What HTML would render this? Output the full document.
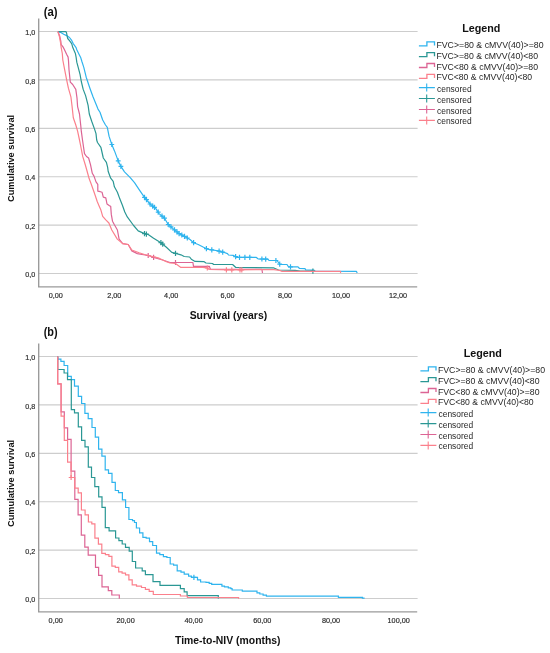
<!DOCTYPE html><html><head><meta charset="utf-8"><style>html,body{margin:0;padding:0;background:#fff;}svg{display:block;font-family:"Liberation Sans",sans-serif;will-change:transform;filter:blur(0.3px);}</style></head><body>
<svg width="550" height="653" viewBox="0 0 550 653">
<rect width="550" height="653" fill="#fff"/>
<text x="43.7" y="15.8" font-size="12.2" font-weight="bold" fill="#111" textLength="13.9" lengthAdjust="spacingAndGlyphs">(a)</text>
<path d="M39,31.5H417.6" stroke="#CDCDCD" stroke-width="1.15"/>
<path d="M39,79.9H417.6" stroke="#CDCDCD" stroke-width="1.15"/>
<path d="M39,128.3H417.6" stroke="#CDCDCD" stroke-width="1.15"/>
<path d="M39,176.7H417.6" stroke="#CDCDCD" stroke-width="1.15"/>
<path d="M39,225.1H417.6" stroke="#CDCDCD" stroke-width="1.15"/>
<path d="M39,273.5H417.6" stroke="#CDCDCD" stroke-width="1.15"/>
<path d="M38.7,18.6V287.4M38.1,286.8H417.2" stroke="#9A9A9A" stroke-width="1.35" fill="none"/>
<text x="35.2" y="35.1" font-size="8.0" fill="#2A2A2A" stroke="#2A2A2A" stroke-width="0.18" text-anchor="end" textLength="10.01" lengthAdjust="spacingAndGlyphs">1,0</text>
<text x="35.2" y="83.5" font-size="8.0" fill="#2A2A2A" stroke="#2A2A2A" stroke-width="0.18" text-anchor="end" textLength="10.01" lengthAdjust="spacingAndGlyphs">0,8</text>
<text x="35.2" y="131.9" font-size="8.0" fill="#2A2A2A" stroke="#2A2A2A" stroke-width="0.18" text-anchor="end" textLength="10.01" lengthAdjust="spacingAndGlyphs">0,6</text>
<text x="35.2" y="180.3" font-size="8.0" fill="#2A2A2A" stroke="#2A2A2A" stroke-width="0.18" text-anchor="end" textLength="10.01" lengthAdjust="spacingAndGlyphs">0,4</text>
<text x="35.2" y="228.7" font-size="8.0" fill="#2A2A2A" stroke="#2A2A2A" stroke-width="0.18" text-anchor="end" textLength="10.01" lengthAdjust="spacingAndGlyphs">0,2</text>
<text x="35.2" y="277.1" font-size="8.0" fill="#2A2A2A" stroke="#2A2A2A" stroke-width="0.18" text-anchor="end" textLength="10.01" lengthAdjust="spacingAndGlyphs">0,0</text>
<text x="55.8" y="297.9" font-size="8.0" fill="#2A2A2A" stroke="#2A2A2A" stroke-width="0.18" text-anchor="middle" textLength="14.17" lengthAdjust="spacingAndGlyphs">0,00</text>
<text x="114.3" y="297.9" font-size="8.0" fill="#2A2A2A" stroke="#2A2A2A" stroke-width="0.18" text-anchor="middle" textLength="14.17" lengthAdjust="spacingAndGlyphs">2,00</text>
<text x="171.2" y="297.9" font-size="8.0" fill="#2A2A2A" stroke="#2A2A2A" stroke-width="0.18" text-anchor="middle" textLength="14.17" lengthAdjust="spacingAndGlyphs">4,00</text>
<text x="227.6" y="297.9" font-size="8.0" fill="#2A2A2A" stroke="#2A2A2A" stroke-width="0.18" text-anchor="middle" textLength="14.17" lengthAdjust="spacingAndGlyphs">6,00</text>
<text x="285.0" y="297.9" font-size="8.0" fill="#2A2A2A" stroke="#2A2A2A" stroke-width="0.18" text-anchor="middle" textLength="14.17" lengthAdjust="spacingAndGlyphs">8,00</text>
<text x="341.0" y="297.9" font-size="8.0" fill="#2A2A2A" stroke="#2A2A2A" stroke-width="0.18" text-anchor="middle" textLength="18.21" lengthAdjust="spacingAndGlyphs">10,00</text>
<text x="398.0" y="297.9" font-size="8.0" fill="#2A2A2A" stroke="#2A2A2A" stroke-width="0.18" text-anchor="middle" textLength="18.21" lengthAdjust="spacingAndGlyphs">12,00</text>
<text transform="translate(14.1,158.4) rotate(-90)" x="0" y="0" font-size="9.8" font-weight="bold" fill="#111" text-anchor="middle" textLength="87" lengthAdjust="spacingAndGlyphs">Cumulative survival</text>
<text x="228.4" y="318.5" font-size="10.4" font-weight="bold" fill="#111" text-anchor="middle" textLength="77.5" lengthAdjust="spacingAndGlyphs">Survival (years)</text>
<text x="462.2" y="32.4" font-size="10.6" font-weight="bold" fill="#111" textLength="38.2" lengthAdjust="spacingAndGlyphs">Legend</text>
<path d="M418.9,45.8H426.9V41.8H434.5V45.4" stroke="#2FB4EE" fill="none" stroke-width="1.3"/>
<text x="436.4" y="47.8" font-size="9.1" fill="#262626" textLength="107.2" lengthAdjust="spacingAndGlyphs">FVC&gt;=80 &amp; cMVV(40)&gt;=80</text>
<path d="M418.9,56.7H426.9V52.7H434.5V56.3" stroke="#2A9794" fill="none" stroke-width="1.3"/>
<text x="436.4" y="58.7" font-size="9.1" fill="#262626" textLength="101.6" lengthAdjust="spacingAndGlyphs">FVC&gt;=80 &amp; cMVV(40)&lt;80</text>
<path d="M418.9,67.5H426.9V63.5H434.5V67.1" stroke="#DC6494" fill="none" stroke-width="1.3"/>
<text x="436.4" y="69.5" font-size="9.1" fill="#262626" textLength="101.6" lengthAdjust="spacingAndGlyphs">FVC&lt;80 &amp; cMVV(40)&gt;=80</text>
<path d="M418.9,78.3H426.9V74.3H434.5V78.0" stroke="#FB808C" fill="none" stroke-width="1.3"/>
<text x="436.4" y="80.3" font-size="9.1" fill="#262626" textLength="95.8" lengthAdjust="spacingAndGlyphs">FVC&lt;80 &amp; cMVV(40)&lt;80</text>
<path d="M418.9,87.6H434.9M426.7,83.6V91.6" stroke="#2FB4EE" fill="none" stroke-width="1.1"/>
<text x="437.0" y="91.6" font-size="8.8" fill="#262626" textLength="34.6" lengthAdjust="spacingAndGlyphs">censored</text>
<path d="M418.9,98.5H434.9M426.7,94.5V102.5" stroke="#2A9794" fill="none" stroke-width="1.1"/>
<text x="437.0" y="102.5" font-size="8.8" fill="#262626" textLength="34.6" lengthAdjust="spacingAndGlyphs">censored</text>
<path d="M418.9,109.5H434.9M426.7,105.5V113.5" stroke="#DC6494" fill="none" stroke-width="1.1"/>
<text x="437.0" y="113.5" font-size="8.8" fill="#262626" textLength="34.6" lengthAdjust="spacingAndGlyphs">censored</text>
<path d="M418.9,120.4H434.9M426.7,116.4V124.4" stroke="#FB808C" fill="none" stroke-width="1.1"/>
<text x="437.0" y="124.4" font-size="8.8" fill="#262626" textLength="34.6" lengthAdjust="spacingAndGlyphs">censored</text>
<text x="43.7" y="336.4" font-size="12.2" font-weight="bold" fill="#111" textLength="13.9" lengthAdjust="spacingAndGlyphs">(b)</text>
<path d="M39,356.5H417.6" stroke="#CDCDCD" stroke-width="1.15"/>
<path d="M39,404.9H417.6" stroke="#CDCDCD" stroke-width="1.15"/>
<path d="M39,453.3H417.6" stroke="#CDCDCD" stroke-width="1.15"/>
<path d="M39,501.7H417.6" stroke="#CDCDCD" stroke-width="1.15"/>
<path d="M39,550.1H417.6" stroke="#CDCDCD" stroke-width="1.15"/>
<path d="M39,598.5H417.6" stroke="#CDCDCD" stroke-width="1.15"/>
<path d="M38.7,343.6V612.4M38.1,611.8H417.2" stroke="#9A9A9A" stroke-width="1.35" fill="none"/>
<text x="35.2" y="360.1" font-size="8.0" fill="#2A2A2A" stroke="#2A2A2A" stroke-width="0.18" text-anchor="end" textLength="10.01" lengthAdjust="spacingAndGlyphs">1,0</text>
<text x="35.2" y="408.5" font-size="8.0" fill="#2A2A2A" stroke="#2A2A2A" stroke-width="0.18" text-anchor="end" textLength="10.01" lengthAdjust="spacingAndGlyphs">0,8</text>
<text x="35.2" y="456.9" font-size="8.0" fill="#2A2A2A" stroke="#2A2A2A" stroke-width="0.18" text-anchor="end" textLength="10.01" lengthAdjust="spacingAndGlyphs">0,6</text>
<text x="35.2" y="505.3" font-size="8.0" fill="#2A2A2A" stroke="#2A2A2A" stroke-width="0.18" text-anchor="end" textLength="10.01" lengthAdjust="spacingAndGlyphs">0,4</text>
<text x="35.2" y="553.7" font-size="8.0" fill="#2A2A2A" stroke="#2A2A2A" stroke-width="0.18" text-anchor="end" textLength="10.01" lengthAdjust="spacingAndGlyphs">0,2</text>
<text x="35.2" y="602.1" font-size="8.0" fill="#2A2A2A" stroke="#2A2A2A" stroke-width="0.18" text-anchor="end" textLength="10.01" lengthAdjust="spacingAndGlyphs">0,0</text>
<text x="55.7" y="622.9" font-size="8.0" fill="#2A2A2A" stroke="#2A2A2A" stroke-width="0.18" text-anchor="middle" textLength="14.17" lengthAdjust="spacingAndGlyphs">0,00</text>
<text x="125.6" y="622.9" font-size="8.0" fill="#2A2A2A" stroke="#2A2A2A" stroke-width="0.18" text-anchor="middle" textLength="18.21" lengthAdjust="spacingAndGlyphs">20,00</text>
<text x="193.6" y="622.9" font-size="8.0" fill="#2A2A2A" stroke="#2A2A2A" stroke-width="0.18" text-anchor="middle" textLength="18.21" lengthAdjust="spacingAndGlyphs">40,00</text>
<text x="262.3" y="622.9" font-size="8.0" fill="#2A2A2A" stroke="#2A2A2A" stroke-width="0.18" text-anchor="middle" textLength="18.21" lengthAdjust="spacingAndGlyphs">60,00</text>
<text x="331.0" y="622.9" font-size="8.0" fill="#2A2A2A" stroke="#2A2A2A" stroke-width="0.18" text-anchor="middle" textLength="18.21" lengthAdjust="spacingAndGlyphs">80,00</text>
<text x="398.7" y="622.9" font-size="8.0" fill="#2A2A2A" stroke="#2A2A2A" stroke-width="0.18" text-anchor="middle" textLength="22.26" lengthAdjust="spacingAndGlyphs">100,00</text>
<text transform="translate(14.1,483.4) rotate(-90)" x="0" y="0" font-size="9.8" font-weight="bold" fill="#111" text-anchor="middle" textLength="87" lengthAdjust="spacingAndGlyphs">Cumulative survival</text>
<text x="227.8" y="644.4" font-size="10.4" font-weight="bold" fill="#111" text-anchor="middle" textLength="105.5" lengthAdjust="spacingAndGlyphs">Time-to-NIV (months)</text>
<text x="463.7" y="357.4" font-size="10.6" font-weight="bold" fill="#111" textLength="38.2" lengthAdjust="spacingAndGlyphs">Legend</text>
<path d="M420.4,370.8H428.4V366.8H436.0V370.4" stroke="#2FB4EE" fill="none" stroke-width="1.3"/>
<text x="437.9" y="372.8" font-size="9.1" fill="#262626" textLength="107.2" lengthAdjust="spacingAndGlyphs">FVC&gt;=80 &amp; cMVV(40)&gt;=80</text>
<path d="M420.4,381.7H428.4V377.7H436.0V381.2" stroke="#2A9794" fill="none" stroke-width="1.3"/>
<text x="437.9" y="383.7" font-size="9.1" fill="#262626" textLength="101.6" lengthAdjust="spacingAndGlyphs">FVC&gt;=80 &amp; cMVV(40)&lt;80</text>
<path d="M420.4,392.5H428.4V388.5H436.0V392.1" stroke="#DC6494" fill="none" stroke-width="1.3"/>
<text x="437.9" y="394.5" font-size="9.1" fill="#262626" textLength="101.6" lengthAdjust="spacingAndGlyphs">FVC&lt;80 &amp; cMVV(40)&gt;=80</text>
<path d="M420.4,403.4H428.4V399.4H436.0V402.9" stroke="#FB808C" fill="none" stroke-width="1.3"/>
<text x="437.9" y="405.4" font-size="9.1" fill="#262626" textLength="95.8" lengthAdjust="spacingAndGlyphs">FVC&lt;80 &amp; cMVV(40)&lt;80</text>
<path d="M420.4,412.6H436.4M428.2,408.6V416.6" stroke="#2FB4EE" fill="none" stroke-width="1.1"/>
<text x="438.5" y="416.6" font-size="8.8" fill="#262626" textLength="34.6" lengthAdjust="spacingAndGlyphs">censored</text>
<path d="M420.4,423.6H436.4M428.2,419.6V427.6" stroke="#2A9794" fill="none" stroke-width="1.1"/>
<text x="438.5" y="427.6" font-size="8.8" fill="#262626" textLength="34.6" lengthAdjust="spacingAndGlyphs">censored</text>
<path d="M420.4,434.5H436.4M428.2,430.5V438.5" stroke="#DC6494" fill="none" stroke-width="1.1"/>
<text x="438.5" y="438.5" font-size="8.8" fill="#262626" textLength="34.6" lengthAdjust="spacingAndGlyphs">censored</text>
<path d="M420.4,445.4H436.4M428.2,441.4V449.4" stroke="#FB808C" fill="none" stroke-width="1.1"/>
<text x="438.5" y="449.4" font-size="8.8" fill="#262626" textLength="34.6" lengthAdjust="spacingAndGlyphs">censored</text>
<g fill="none" stroke-width="1.2" stroke-linejoin="round">
<polyline points="57.9,31.6 60.8,32.4 63.7,34.2 66.6,35.6 69.5,37.5 71.7,40.4 73.2,43.6 76.1,47.6 76.8,49.8 79.0,54.2 80.8,57.8 81.9,61.5 83.8,67.4 86.2,77.2 89.9,88.2 93.0,96.8 98.0,109.1 100.0,112.3 102.7,120.0 105.5,125.0 107.3,127.3 109.1,136.4 111.8,144.5 114.5,150.9 118.2,160.9 120.9,166.4 124.5,171.8 130.0,177.3 134.5,182.7 140.0,190.9 144.5,197.3 150.0,204.0 155.5,208.2 159.1,213.6 164.5,218.2 168.2,224.5 173.6,229.1 179.1,233.6 184.5,236.4 190.0,239.5 193.6,242.7 198.2,244.5 203.6,247.3 207.3,249.1 212.7,250.0 218.2,250.9 223.6,252.3 227.5,253.6 228.5,255.0 233.5,255.4 236.5,257.3 256.0,257.3 258.0,258.8 268.0,259.2 269.0,260.5 277.0,260.5 278.5,262.5 280.0,264.5 287.0,264.5 288.5,266.8 298.0,266.8 299.5,268.5 305.0,268.6 305.8,270.0 314.0,270.2 315.0,271.2 356.5,271.4 357.2,272.9" stroke="#2FB4EE"/>
<path d="M111.8,141.9V147.1M109.4,144.5H114.2" stroke="#2FB4EE"/><path d="M118.2,158.3V163.5M115.8,160.9H120.6" stroke="#2FB4EE"/><path d="M120.9,163.8V169.0M118.5,166.4H123.3" stroke="#2FB4EE"/><path d="M144.5,194.7V199.9M142.1,197.3H146.9" stroke="#2FB4EE"/><path d="M146.5,197.1V202.3M144.1,199.7H148.9" stroke="#2FB4EE"/><path d="M150.0,201.4V206.6M147.6,204.0H152.4" stroke="#2FB4EE"/><path d="M152.7,203.5V208.7M150.3,206.1H155.1" stroke="#2FB4EE"/><path d="M154.5,204.8V210.0M152.1,207.4H156.9" stroke="#2FB4EE"/><path d="M158.2,209.6V214.8M155.8,212.2H160.6" stroke="#2FB4EE"/><path d="M162.0,213.5V218.7M159.6,216.1H164.4" stroke="#2FB4EE"/><path d="M164.5,215.6V220.8M162.1,218.2H166.9" stroke="#2FB4EE"/><path d="M168.2,221.9V227.1M165.8,224.5H170.6" stroke="#2FB4EE"/><path d="M171.0,224.3V229.5M168.6,226.9H173.4" stroke="#2FB4EE"/><path d="M174.5,227.2V232.4M172.1,229.8H176.9" stroke="#2FB4EE"/><path d="M177.0,229.3V234.5M174.6,231.9H179.4" stroke="#2FB4EE"/><path d="M179.1,231.0V236.2M176.7,233.6H181.5" stroke="#2FB4EE"/><path d="M181.8,232.4V237.6M179.4,235.0H184.2" stroke="#2FB4EE"/><path d="M184.5,233.8V239.0M182.1,236.4H186.9" stroke="#2FB4EE"/><path d="M187.3,235.4V240.6M184.9,238.0H189.7" stroke="#2FB4EE"/><path d="M193.6,240.1V245.3M191.2,242.7H196.0" stroke="#2FB4EE"/><path d="M206.4,246.1V251.3M204.0,248.7H208.8" stroke="#2FB4EE"/><path d="M211.8,247.2V252.4M209.4,249.8H214.2" stroke="#2FB4EE"/><path d="M219.1,248.5V253.7M216.7,251.1H221.5" stroke="#2FB4EE"/><path d="M222.7,249.5V254.7M220.3,252.1H225.1" stroke="#2FB4EE"/><path d="M235.6,254.1V259.3M233.2,256.7H238.0" stroke="#2FB4EE"/><path d="M239.5,254.7V259.9M237.1,257.3H241.9" stroke="#2FB4EE"/><path d="M244.9,254.7V259.9M242.5,257.3H247.3" stroke="#2FB4EE"/><path d="M249.8,254.7V259.9M247.4,257.3H252.2" stroke="#2FB4EE"/><path d="M261.9,256.4V261.6M259.5,259.0H264.3" stroke="#2FB4EE"/><path d="M265.7,256.5V261.7M263.3,259.1H268.1" stroke="#2FB4EE"/><path d="M275.9,257.9V263.1M273.5,260.5H278.3" stroke="#2FB4EE"/><path d="M279.7,261.5V266.7M277.3,264.1H282.1" stroke="#2FB4EE"/><path d="M290.5,264.2V269.4M288.1,266.8H292.9" stroke="#2FB4EE"/>
<polyline points="57.9,31.6 65.9,31.5 66.6,33.1 67.0,35.3 67.7,38.5 69.5,40.7 71.7,43.6 72.8,47.6 74.3,50.9 75.4,53.5 76.1,57.1 76.8,62.2 78.2,67.4 80.1,74.7 81.3,81.5 83.2,89.4 85.6,95.6 88.1,105.4 89.3,114.0 91.7,121.3 94.8,129.9 96.0,133.6 96.7,140.0 97.5,142.5 100.9,147.3 101.5,150.0 103.3,158.0 106.4,162.3 107.6,167.2 108.2,171.5 110.7,178.2 113.2,181.3 114.4,186.8 117.4,192.3 119.9,199.1 122.4,205.2 124.8,212.0 127.3,216.9 133.6,225.5 138.2,230.9 144.5,233.6 148.2,234.5 153.6,238.2 160.9,242.7 166.4,247.3 171.8,252.4 176.5,253.7 180.9,254.8 184.2,256.5 189.6,257.0 191.3,259.2 195.1,261.4 203.8,261.6 206.0,263.0 212.5,263.5 213.6,264.5 232.6,264.5 235.8,267.5 273.4,267.8 278.5,270.0 295.0,270.4 300.2,271.1 312.9,271.1" stroke="#2A9794"/>
<path d="M144.5,231.0V236.2M142.1,233.6H146.9" stroke="#2A9794"/><path d="M146.4,231.5V236.7M144.0,234.1H148.8" stroke="#2A9794"/><path d="M160.9,240.1V245.3M158.5,242.7H163.3" stroke="#2A9794"/><path d="M162.7,241.6V246.8M160.3,244.2H165.1" stroke="#2A9794"/><path d="M175.5,250.8V256.0M173.1,253.4H177.9" stroke="#2A9794"/><path d="M312.9,268.5V273.7M310.5,271.1H315.3" stroke="#2A9794"/>
<polyline points="57.9,31.6 59.7,36.0 60.8,41.1 61.2,44.7 63.0,46.9 64.5,49.8 66.6,54.2 68.1,57.1 68.5,60.7 69.0,69.8 70.3,82.1 72.7,84.5 75.8,89.4 77.0,98.0 77.6,106.6 79.5,114.0 80.7,125.0 81.3,131.2 82.5,140.0 84.5,153.6 86.5,156.5 88.6,158.0 90.5,164.7 92.3,173.3 94.1,176.4 96.0,181.9 97.8,184.4 97.8,191.1 100.3,191.7 102.1,192.3 103.3,197.2 105.8,197.9 107.0,204.0 109.5,205.8 110.7,206.4 111.3,214.4 112.5,221.2 114.4,224.8 117.4,230.0 119.1,239.1 122.7,243.6 128.2,244.5 131.8,250.9 137.3,253.6 148.2,255.5 153.6,257.3 162.7,260.0 170.0,262.5 174.4,262.5 192.9,262.5 193.5,266.3 209.3,266.3 210.4,269.2 261.9,269.3 262.5,273.0" stroke="#DC6494"/>
<path d="M148.2,252.9V258.1M145.8,255.5H150.6" stroke="#DC6494"/><path d="M153.6,254.7V259.9M151.2,257.3H156.0" stroke="#DC6494"/><path d="M175.5,259.9V265.1M173.1,262.5H177.9" stroke="#DC6494"/>
<polyline points="57.9,31.6 59.4,36.7 60.5,42.5 61.2,47.6 62.3,53.5 62.8,60.0 64.7,69.8 66.6,79.6 68.4,88.2 70.9,96.8 72.1,106.6 73.3,117.7 75.8,125.0 77.6,131.2 79.5,140.0 80.6,145.5 82.7,156.4 85.5,165.5 88.0,174.5 89.2,178.8 91.1,183.7 93.5,190.5 95.4,196.0 97.2,201.5 99.0,205.8 100.9,210.1 102.7,216.3 105.8,219.9 108.9,223.0 111.8,230.0 117.3,239.1 122.7,243.6 128.2,244.5 131.8,250.0 139.1,252.7 144.5,254.5 151.8,256.4 159.1,258.2 166.4,261.8 170.0,263.0 175.5,263.5 180.9,267.4 202.7,267.4 207.1,267.9 209.3,269.5 230.0,269.9 263.2,269.6 274.0,269.6 279.7,270.4 281.6,271.3 340.5,271.3 340.6,272.9" stroke="#FB808C"/>
<path d="M207.3,265.4V270.6M204.9,268.0H209.7" stroke="#FB808C"/><path d="M226.4,267.2V272.4M224.0,269.8H228.8" stroke="#FB808C"/><path d="M231.8,267.3V272.5M229.4,269.9H234.2" stroke="#FB808C"/><path d="M240.0,267.2V272.4M237.6,269.8H242.4" stroke="#FB808C"/><path d="M241.8,267.2V272.4M239.4,269.8H244.2" stroke="#FB808C"/>
</g>
<g fill="none" stroke-width="1.2">
<path d="M57.7,356.5H57.7V359.1H60.9V361.4H64.1V365.5H67.7V376.4H71.3V379.6H74.5V386.1H78.3V396.4H81.6V403.5H84.9V413.3H88.2V418.7H92.0V427.5H95.3V437.1H98.6V449.1H101.9V456.2H105.2V469.8H108.5V473.3H112.0V482.4H115.3V490.5H118.5V492.7H122.4V499.8H125.6V507.5H128.9V519.5H132.5V520.6H134.5V522.5H136.4V528.0H139.6V532.9H142.9V537.3H146.2V538.2H149.5V541.6H152.7V545.5H156.5V553.1H159.8V554.7H163.4V556.6H166.9V557.5H170.2V564.0H173.6V565.2H177.2V570.9H181.0V572.2H184.2V574.1H188.6V576.2H191.4V577.3H197.5V579.8H200.6V582.0H206.0V582.4H209.2V583.3H211.7V584.4H221.9V586.2H224.5V586.8H228.3V587.8H230.8V588.7H232.1V590.0H242.3V591.2H257.0V592.9H259.8V594.0H263.1V595.1H266.4V596.2H338.4V597.3H362.4V598.2H364.6" stroke="#2FB4EE"/>
<path d="M193.9,574.7V579.9M191.5,577.3H196.3" stroke="#2FB4EE"/>
<path d="M57.7,356.5H57.7V369.5H64.1V373.0H67.5V379.6H71.3V409.6H74.5V412.9H78.3V426.9H81.6V440.4H85.0V446.9H88.3V467.1H91.5V477.5H94.8V486.7H98.7V496.9H102.0V507.3H105.3V527.6H109.1V530.9H115.6V538.0H118.9V540.7H122.2V544.0H125.5V547.4H129.2V551.1H132.3V561.5H135.6V568.0H142.2V570.9H145.4V574.7H153.0V581.7H160.0V585.3H180.4V588.7H184.2V591.9H187.1V595.6H218.3V598.6H218.3" stroke="#2A9794"/>

<path d="M57.7,356.5H57.7V383.9H61.1V411.8H64.3V427.9H67.6V439.3H71.1V471.2H74.8V499.3H78.1V514.9H81.3V535.2H84.8V547.2H88.2V555.1H95.5V567.4H98.6V575.4H102.0V586.9H108.3V590.6H111.8V595.0H119.3V598.8H119.3" stroke="#DC6494"/>

<path d="M57.7,356.5H57.7V383.9H61.1V416.1H64.3V440.4H67.6V462.1H71.1V477.5H74.8V488.1H78.2V492.9H81.4V510.0H85.1V514.9H88.4V522.0H91.8V523.8H94.9V538.2H98.4V544.2H101.8V553.4H105.4V554.6H108.9V556.3H111.9V566.2H115.3V567.3H118.7V571.8H122.1V573.1H125.5V574.9H128.9V579.8H132.2V584.9H136.5V586.2H141.5V587.5H145.4V589.4H149.2V591.3H153.3V594.5H180.4V596.0H187.4V597.5H238.6V598.7H238.6" stroke="#FB808C"/>
<path d="M71.1,474.9V480.1M68.7,477.5H73.5" stroke="#FB808C"/>
</g>
</svg></body></html>
